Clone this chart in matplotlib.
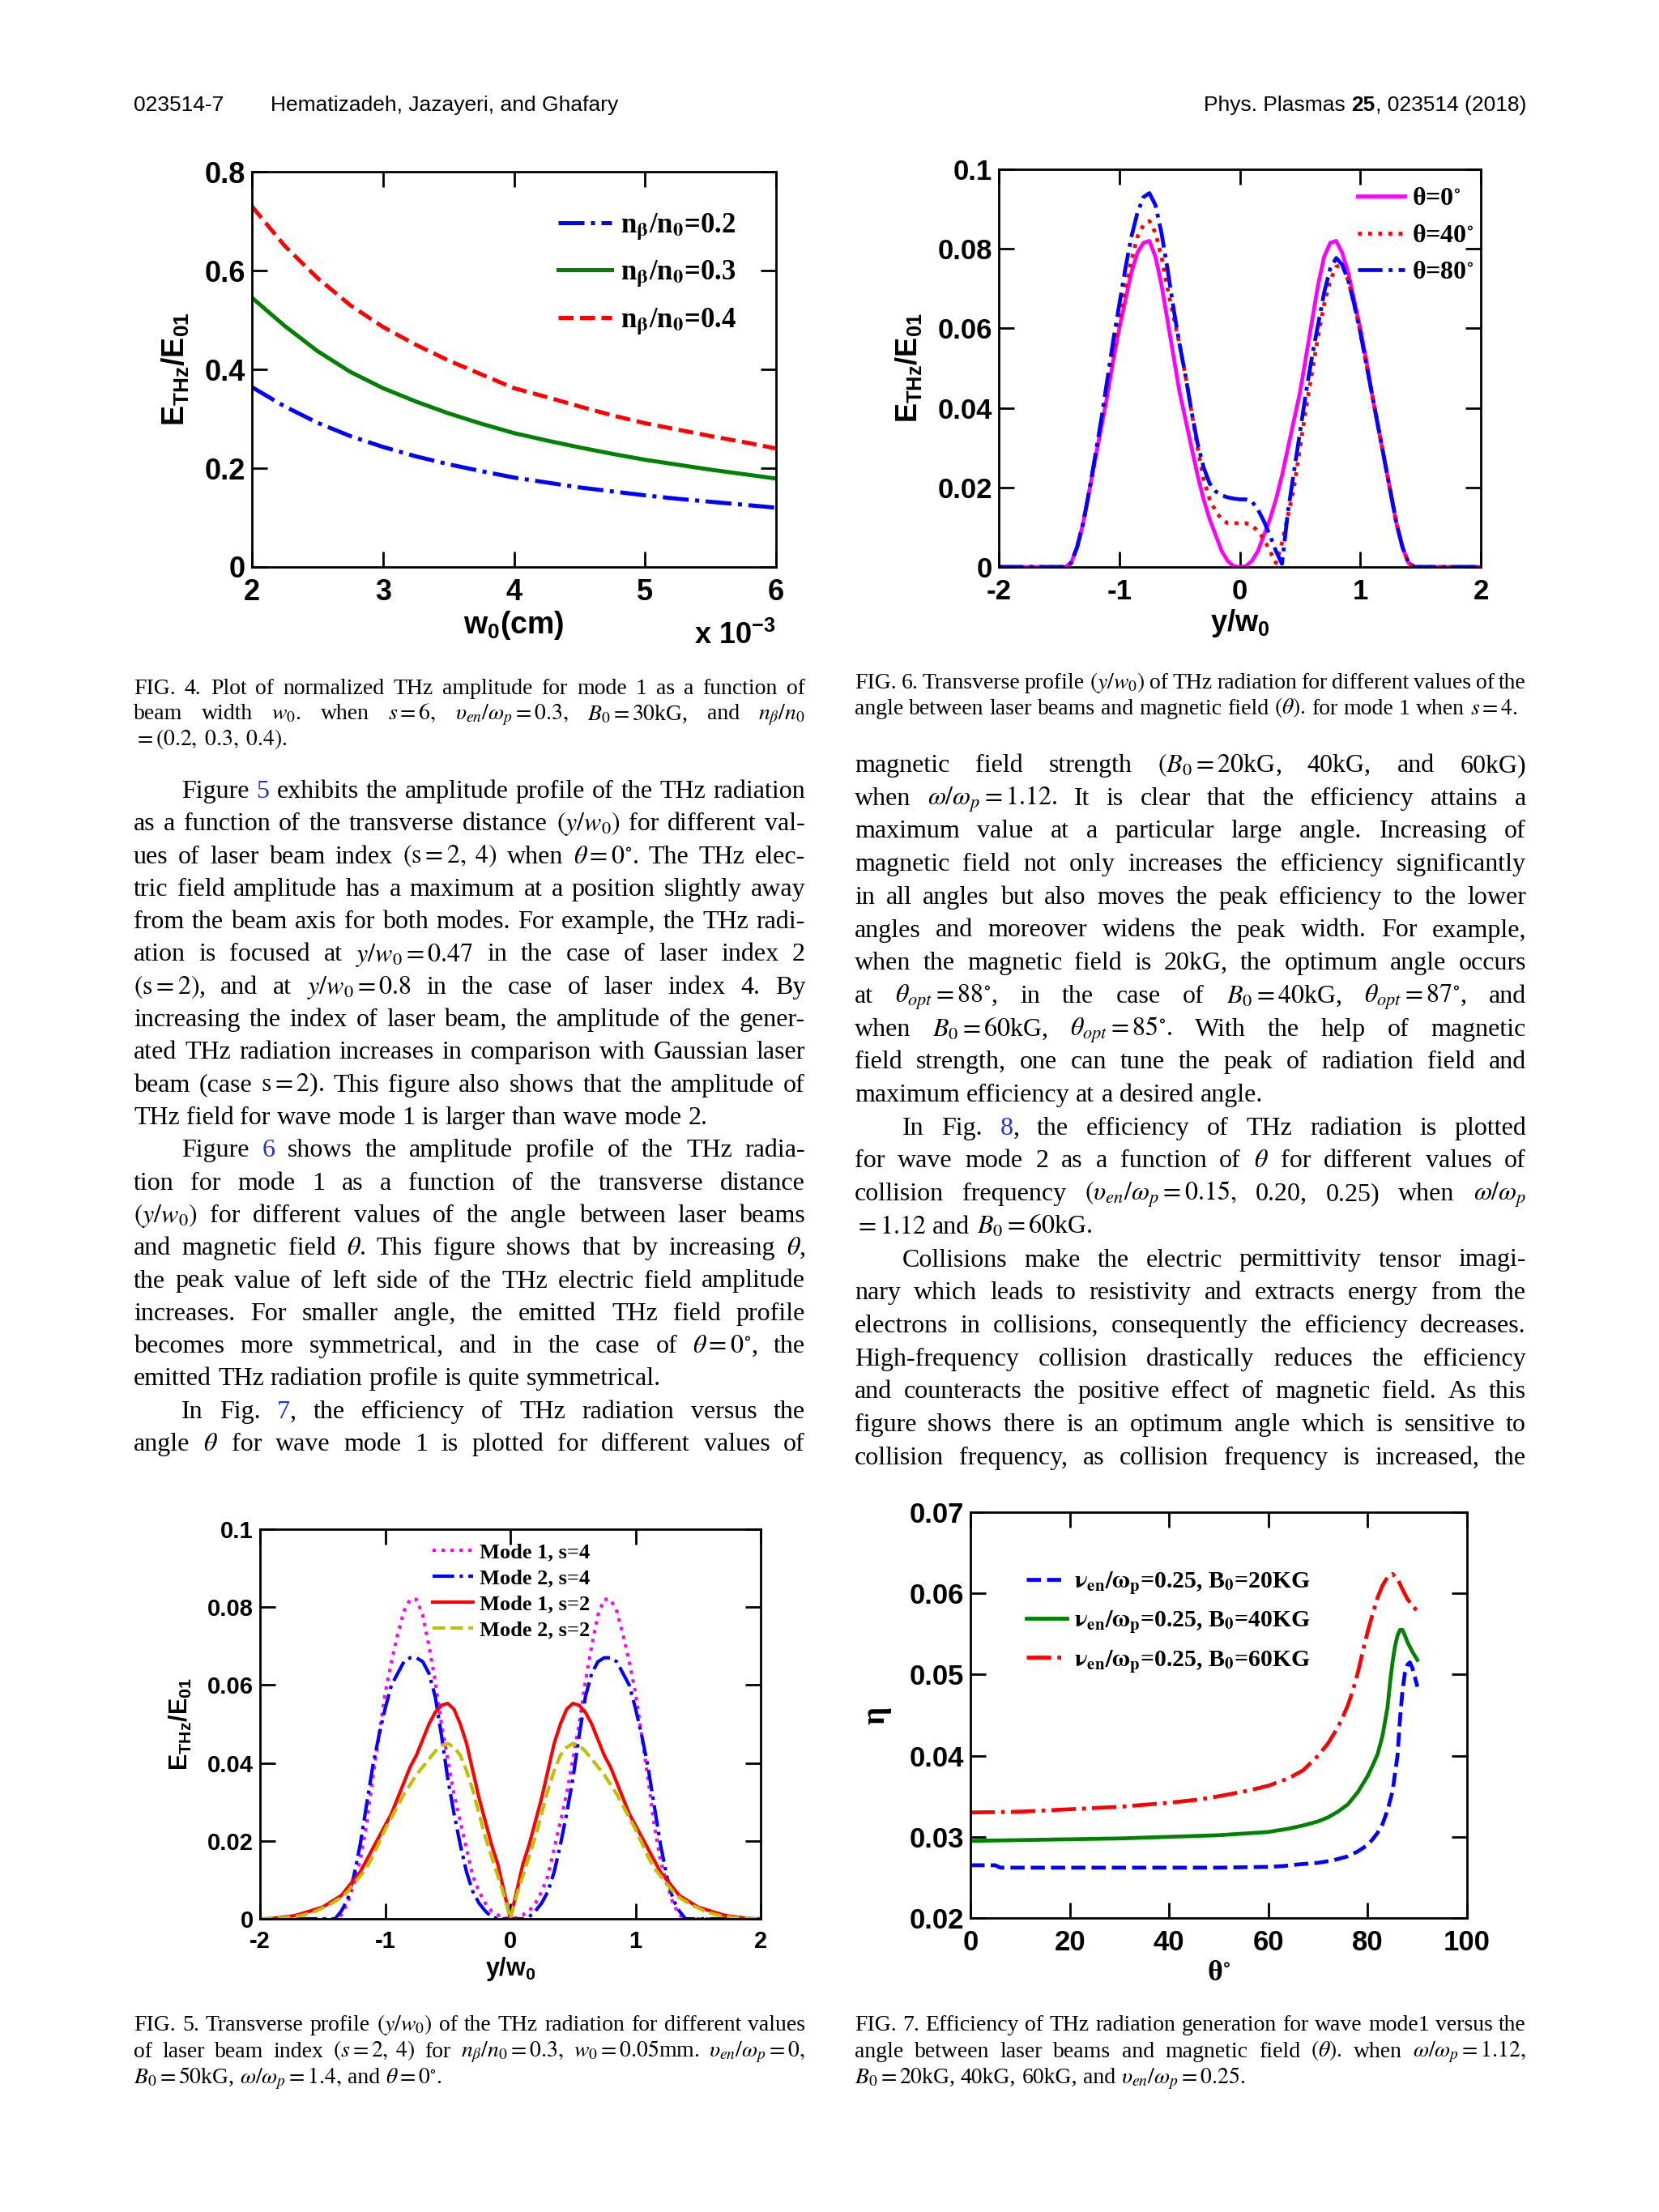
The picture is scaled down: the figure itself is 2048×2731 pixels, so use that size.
import numpy as np
import matplotlib
matplotlib.use("Agg")
import matplotlib.pyplot as plt
from matplotlib.font_manager import FontProperties

# ---------------- FIG. 4 : E_THz/E_01 versus w0 (units of 1e-3 cm)
w0 = [2.0, 2.25, 2.5, 2.75, 3.0, 3.25, 3.5, 3.75, 4.0, 4.25, 4.5, 4.75, 5.0, 5.25, 5.5, 5.75, 6.0]
amp_n02 = [0.364, 0.325, 0.292, 0.265, 0.243, 0.224, 0.208, 0.194, 0.181, 0.171, 0.161, 0.153,
           0.145, 0.138, 0.132, 0.126, 0.120]
amp_n03 = [0.545, 0.488, 0.437, 0.395, 0.362, 0.335, 0.311, 0.290, 0.271, 0.256, 0.242, 0.229,
           0.217, 0.207, 0.197, 0.188, 0.179]
amp_n04 = [0.730, 0.650, 0.585, 0.530, 0.486, 0.450, 0.418, 0.390, 0.362, 0.344, 0.325, 0.307,
           0.291, 0.278, 0.265, 0.253, 0.240]
fig4_labels = [r'n$_{\mathbf{\beta}}$/n$_{\mathbf{0}}$=0.2', r'n$_{\mathbf{\beta}}$/n$_{\mathbf{0}}$=0.3',
               r'n$_{\mathbf{\beta}}$/n$_{\mathbf{0}}$=0.4']
fig4_xticks = [2, 3, 4, 5, 6]
fig4_yticks = [0, 0.2, 0.4, 0.6, 0.8]
fig4_yticklabels = ['0', '0.2', '0.4', '0.6', '0.8']

# ---------------- FIG. 6 : profile for theta = 0, 40, 80 deg (x = -2..2, step 0.05)
y6 = np.linspace(-2, 2, 81)
z11 = [0.0] * 11
th0 = z11 + [0, 0.001, 0.005, 0.011, 0.019, 0.027, 0.035, 0.043, 0.052, 0.060,
             0.067, 0.074, 0.079, 0.0815, 0.082, 0.078, 0.071, 0.062, 0.053, 0.044,
             0.037, 0.030, 0.023, 0.017, 0.012, 0.008, 0.004, 0.0015, 0.0002,
             0.0,
             0.0002, 0.0015, 0.004, 0.008, 0.012, 0.017, 0.023, 0.030, 0.037, 0.044,
             0.053, 0.062, 0.071, 0.078, 0.0815, 0.082, 0.079, 0.074, 0.067, 0.060,
             0.052, 0.043, 0.035, 0.027, 0.019, 0.011, 0.005, 0.001, 0] + z11
th40 = z11 + [0, 0.001, 0.005, 0.011, 0.019, 0.027, 0.036, 0.045, 0.054, 0.062,
              0.070, 0.077, 0.083, 0.086, 0.087, 0.084, 0.078, 0.070, 0.063, 0.056,
              0.048, 0.039, 0.030, 0.022, 0.017, 0.014, 0.012, 0.011, 0.011,
              0.011,
              0.011, 0.0105, 0.009, 0.007, 0.004, 0.001, 0.006, 0.013, 0.020, 0.030,
              0.040, 0.049, 0.058, 0.066, 0.072, 0.0755, 0.076, 0.072, 0.066, 0.059,
              0.051, 0.043, 0.035, 0.027, 0.019, 0.011, 0.005, 0.001, 0] + z11
th80 = z11 + [0, 0.001, 0.005, 0.011, 0.019, 0.028, 0.037, 0.047, 0.057, 0.066,
              0.075, 0.083, 0.089, 0.093, 0.094, 0.091, 0.084, 0.075, 0.065, 0.056,
              0.048, 0.039, 0.031, 0.025, 0.021, 0.019, 0.018, 0.0175, 0.0172,
              0.017,
              0.017, 0.0165, 0.0145, 0.0115, 0.008, 0.004, 0.0008, 0.014, 0.024, 0.034,
              0.044, 0.053, 0.061, 0.069, 0.075, 0.0777, 0.076, 0.072, 0.066, 0.059,
              0.051, 0.043, 0.035, 0.027, 0.019, 0.011, 0.005, 0.001, 0] + z11
fig6_labels = [r'θ=0$^{\circ}$', r'θ=40$^{\circ}$', r'θ=80$^{\circ}$']
prof_xticks = [-2, -1, 0, 1, 2]
prof_yticks = [0, 0.02, 0.04, 0.06, 0.08, 0.1]
prof_yticklabels = ['0', '0.02', '0.04', '0.06', '0.08', '0.1']

# ---------------- FIG. 5 : half profiles (y/w0 = 0..2, step 0.05), curves are symmetric
y5_half = np.linspace(0, 2, 41)
mode1_s4 = [0, 0.0003, 0.001, 0.002, 0.004, 0.007, 0.011, 0.018, 0.025, 0.032,
            0.041, 0.050, 0.061, 0.070, 0.078, 0.082, 0.082, 0.079, 0.073, 0.066,
            0.058, 0.047, 0.036, 0.024, 0.015, 0.009, 0.004, 0.001, 0] + [0.0] * 12
mode2_s4 = [0, 0, 0, 0.0005, 0.002, 0.004, 0.007, 0.012, 0.019, 0.027,
            0.036, 0.047, 0.057, 0.063, 0.066, 0.067, 0.067, 0.066, 0.063, 0.060,
            0.054, 0.047, 0.039, 0.029, 0.019, 0.011, 0.005, 0.002, 0] + [0.0] * 12
mode1_s2 = [0, 0.007, 0.014, 0.019, 0.025, 0.031, 0.038, 0.045, 0.050, 0.0538,
            0.0553, 0.0548, 0.053, 0.050, 0.046, 0.042, 0.039, 0.035, 0.031, 0.027,
            0.024, 0.021, 0.018, 0.015, 0.012, 0.010, 0.008, 0.006, 0.005, 0.004,
            0.003, 0.0025, 0.002, 0.0015, 0.001, 0.0007, 0.0005, 0.0003, 0.0001, 0, 0]
mode2_s2 = [0, 0.006, 0.011, 0.016, 0.021, 0.027, 0.033, 0.038, 0.042, 0.044,
            0.045, 0.0445, 0.043, 0.041, 0.039, 0.037, 0.0345, 0.032, 0.029, 0.026,
            0.023, 0.0195, 0.016, 0.013, 0.011, 0.009, 0.007, 0.0055, 0.0045, 0.0035,
            0.0028, 0.002, 0.0015, 0.001, 0.0007, 0.0005, 0.0003, 0.0002, 0.0001, 0, 0]
fig5_labels = ['Mode 1, s=4', 'Mode 2, s=4', 'Mode 1, s=2', 'Mode 2, s=2']

# ---------------- FIG. 7 : efficiency versus theta
th_b20 = [0, 5, 6, 10, 20, 30, 40, 50, 60, 63, 66, 70, 73, 76, 78, 80, 81, 82, 83, 84,
          85, 86, 86.5, 87, 87.5, 88, 88.5, 89, 89.5, 90]
eta_b20 = [0.0265, 0.0265, 0.0262, 0.0262, 0.0262, 0.0262, 0.0262, 0.0262, 0.0263, 0.0264,
           0.0266, 0.0268, 0.0271, 0.0276, 0.0282, 0.0290, 0.0297, 0.0305, 0.0316, 0.0333,
           0.0356, 0.0400, 0.0445, 0.0480, 0.0502, 0.0512, 0.0515, 0.0508, 0.0497, 0.0485]
th_b40 = [0, 10, 20, 30, 40, 50, 55, 60, 64, 67, 70, 72, 74, 76, 78, 80, 81, 82, 83, 84,
          84.5, 85, 85.5, 86, 86.5, 87, 87.5, 88, 89, 90]
eta_b40 = [0.0295, 0.0296, 0.0297, 0.0298, 0.0300, 0.0302, 0.0304, 0.0306, 0.0310, 0.0314,
           0.0319, 0.0324, 0.0331, 0.0340, 0.0355, 0.0375, 0.0388, 0.0402, 0.0425, 0.0460,
           0.0490, 0.0515, 0.0535, 0.0548, 0.0555, 0.0555, 0.0548, 0.0540, 0.0528, 0.0518]
th_b60 = [0, 10, 20, 30, 40, 46, 50, 56, 60, 64, 67, 70, 72, 74, 75, 76, 77, 78, 79, 80,
          81, 82, 83, 84, 85, 86, 87, 88, 89, 90]
eta_b60 = [0.0330, 0.0331, 0.0334, 0.0337, 0.0342, 0.0346, 0.0350, 0.0357, 0.0363, 0.0372,
           0.0382, 0.0400, 0.0415, 0.0435, 0.0448, 0.0462, 0.0480, 0.0502, 0.0528, 0.0553,
           0.0575, 0.0595, 0.0610, 0.0620, 0.0624, 0.0618, 0.0605, 0.0593, 0.0585, 0.0578]
fig7_labels = [r'$\mathbf{\nu_{en}/\omega_p}$=0.25, B$_{\mathbf{0}}$=20KG',
               r'$\mathbf{\nu_{en}/\omega_p}$=0.25, B$_{\mathbf{0}}$=40KG',
               r'$\mathbf{\nu_{en}/\omega_p}$=0.25, B$_{\mathbf{0}}$=60KG']
fig7_xticks = [0, 20, 40, 60, 80, 100]
fig7_yticks = [0.02, 0.03, 0.04, 0.05, 0.06, 0.07]
fig7_yticklabels = ['0.02', '0.03', '0.04', '0.05', '0.06', '0.07']

# ---------------- page text
header_left = ['023514-7', 'Hematizadeh, Jazayeri, and Ghafary']
header_right = ['Phys. Plasmas', '25', ', 023514 (2018)']

cap4 = [(False, True, r'FIG. 4. Plot of normalized THz amplitude for mode 1 as a function of'),
        (False, True, r'beam width $w_0$. when $s=6,$ $\upsilon_{en}/\omega_p=0.3,$ $B_0=30$kG, and $n_\beta/n_0$'),
        (False, False, r'$=(0.2,\;0.3,\;0.4)$.')]
cap6 = [(False, True, r'FIG. 6. Transverse profile $(y/w_0)$ of THz radiation for different values of the'),
        (False, False, r'angle between laser beams and magnetic field $(\theta)$. for mode 1 when $s=4$.')]
cap5 = [(False, True, r'FIG. 5. Transverse profile $(y/w_0)$ of the THz radiation for different values'),
        (False, True, r'of laser beam index $(s=2,\;4)$ for $n_\beta/n_0=0.3,$ $w_0=0.05$mm. $\upsilon_{en}/\omega_p=0,$'),
        (False, False, r'$B_0=50$kG, $\omega/\omega_p=1.4,$ and $\theta=0^{\circ}$.')]
cap7 = [(False, True, r'FIG. 7. Efficiency of THz radiation generation for wave mode1 versus the'),
        (False, True, r'angle between laser beams and magnetic field $(\theta)$. when $\omega/\omega_p=1.12,$'),
        (False, False, r'$B_0=20$kG, 40kG, 60kG, and $\upsilon_{en}/\omega_p=0.25$.')]

left_col = [
    (True, True, r'Figure @5 exhibits the amplitude profile of the THz radiation'),
    (False, True, r'as a function of the transverse distance $(y/w_0)$ for different val-'),
    (False, True, r'ues of laser beam index $(\mathrm{s}=2,\;4)$ when $\theta=0^{\circ}$. The THz elec-'),
    (False, True, r'tric field amplitude has a maximum at a position slightly away'),
    (False, True, r'from the beam axis for both modes. For example, the THz radi-'),
    (False, True, r'ation is focused at $y/w_0=0.47$ in the case of laser index 2'),
    (False, True, r'$(\mathrm{s}=2)$, and at $y/w_0=0.8$ in the case of laser index 4. By'),
    (False, True, r'increasing the index of laser beam, the amplitude of the gener-'),
    (False, True, r'ated THz radiation increases in comparison with Gaussian laser'),
    (False, True, r'beam (case $\mathrm{s}=2$). This figure also shows that the amplitude of'),
    (False, False, r'THz field for wave mode 1 is larger than wave mode 2.'),
    (True, True, r'Figure @6 shows the amplitude profile of the THz radia-'),
    (False, True, r'tion for mode 1 as a function of the transverse distance'),
    (False, True, r'$(y/w_0)$ for different values of the angle between laser beams'),
    (False, True, r'and magnetic field $\theta$. This figure shows that by increasing $\theta$,'),
    (False, True, r'the peak value of left side of the THz electric field amplitude'),
    (False, True, r'increases. For smaller angle, the emitted THz field profile'),
    (False, True, r'becomes more symmetrical, and in the case of $\theta=0^{\circ}$, the'),
    (False, False, r'emitted THz radiation profile is quite symmetrical.'),
    (True, True, r'In Fig. @7, the efficiency of THz radiation versus the'),
    (False, True, r'angle $\theta$ for wave mode 1 is plotted for different values of'),
]
right_col = [
    (False, True, r'magnetic field strength $(B_0=20$kG, 40kG, and 60kG)'),
    (False, True, r'when $\omega/\omega_p=1.12$. It is clear that the efficiency attains a'),
    (False, True, r'maximum value at a particular large angle. Increasing of'),
    (False, True, r'magnetic field not only increases the efficiency significantly'),
    (False, True, r'in all angles but also moves the peak efficiency to the lower'),
    (False, True, r'angles and moreover widens the peak width. For example,'),
    (False, True, r'when the magnetic field is 20kG, the optimum angle occurs'),
    (False, True, r'at $\theta_{opt}=88^{\circ}$, in the case of $B_0=40$kG, $\theta_{opt}=87^{\circ}$, and'),
    (False, True, r'when $B_0=60$kG, $\theta_{opt}=85^{\circ}$. With the help of magnetic'),
    (False, True, r'field strength, one can tune the peak of radiation field and'),
    (False, False, r'maximum efficiency at a desired angle.'),
    (True, True, r'In Fig. @8, the efficiency of THz radiation is plotted'),
    (False, True, r'for wave mode 2 as a function of $\theta$ for different values of'),
    (False, True, r'collision frequency $(\upsilon_{en}/\omega_p=0.15,$ 0.20, 0.25) when $\omega/\omega_p$'),
    (False, False, r'$=1.12$ and $B_0=60$kG.'),
    (True, True, r'Collisions make the electric permittivity tensor imagi-'),
    (False, True, r'nary which leads to resistivity and extracts energy from the'),
    (False, True, r'electrons in collisions, consequently the efficiency decreases.'),
    (False, True, r'High-frequency collision drastically reduces the efficiency'),
    (False, True, r'and counteracts the positive effect of magnetic field. As this'),
    (False, True, r'figure shows there is an optimum angle which is sensitive to'),
    (False, True, r'collision frequency, as collision frequency is increased, the'),
]

# ---------------- setup
W, H, DPI = 2048, 2731, 200
SERIF = 'Liberation Serif'
SANS = 'Liberation Sans'
LINK = '#2233cc'

plt.rcParams['font.family'] = SANS
plt.rcParams['mathtext.fontset'] = 'custom'
plt.rcParams['mathtext.rm'] = 'Liberation Sans'
plt.rcParams['mathtext.it'] = 'Liberation Sans:italic'
plt.rcParams['mathtext.bf'] = 'Liberation Sans:bold'

fig = plt.figure(figsize=(W / DPI, H / DPI), dpi=DPI)
fig.patch.set_facecolor('white')
renderer = fig.canvas.get_renderer()


def measure(s, size, family=SERIF, weight='normal', math='stix'):
    t = fig.text(0, 0, s, fontsize=size, family=family, fontweight=weight, math_fontfamily=math)
    w = t.get_window_extent(renderer).width
    t.remove()
    return w


def split_words(line):
    words, cur, math = [], '', False
    for ch in line:
        if ch == '$':
            math = not math
        if ch == ' ' and not math:
            if cur:
                words.append(cur)
            cur = ''
        else:
            cur += ch
    if cur:
        words.append(cur)
    return words


def pieces(word):
    if word.startswith('@'):
        w = word[1:]
        n = 0
        while n < len(w) and w[n].isdigit():
            n += 1
        out = [(w[:n], LINK)]
        if w[n:]:
            out.append((w[n:], 'black'))
        return out
    return [(word, 'black')]


def draw_lines(lines, x0, x1, base0, dy, cap, indent=59.0, min_gap=0.2):
    toks = [[pieces(w) for w in split_words(t)] for _, _, t in lines]
    ratios = []
    for (ind, just, _), ws in zip(lines, toks):
        if not just:
            continue
        tot = sum(measure(p, 10) for w in ws for p, _ in w)
        room = x1 - x0 - (indent if ind else 0)
        ratios.append(room / (tot + min_gap * 10 * DPI / 72 * (len(ws) - 1)))
    size = min(cap, 10 * min(ratios))
    space = 0.25 * size * DPI / 72
    for i, ((ind, just, _), ws) in enumerate(zip(lines, toks)):
        y = base0 + i * dy
        x = x0 + (indent if ind else 0)
        widths = [[measure(p, size) for p, _ in w] for w in ws]
        tot = sum(sum(w) for w in widths)
        gap = (x1 - x - tot) / (len(ws) - 1) if (just and len(ws) > 1) else space
        for w, ww in zip(ws, widths):
            for (p, c), pw in zip(w, ww):
                fig.text(x / W, 1 - y / H, p, fontsize=size, family=SERIF, color=c,
                         math_fontfamily='stix', ha='left', va='baseline')
                x += pw
            x += gap
    return size


def make_ax(l, t, r, b):
    ax = fig.add_axes([l / W, 1 - b / H, (r - l) / W, (b - t) / H])
    ax.tick_params(direction='in', top=True, right=True, length=7, width=1.0)
    for s in ax.spines.values():
        s.set_linewidth(1.0)
    return ax


def style_ticks(ax, xt, xl, yt, yl, size):
    ax.set_xticks(xt)
    ax.set_xticklabels(xl, fontsize=size, fontweight='bold', family=SANS)
    ax.set_yticks(yt)
    ax.set_yticklabels(yl, fontsize=size, fontweight='bold', family=SANS)
    ax.tick_params(axis='x', pad=5)
    ax.tick_params(axis='y', pad=3)


def serif_prop(size):
    return FontProperties(family=SERIF, weight='bold', size=size, math_fontfamily='stix')


# ---------------- header
hsize = 9.5
fig.text(165 / W, 1 - 137 / H, header_left[0], fontsize=hsize, family=SANS, va='baseline')
fig.text(334 / W, 1 - 137 / H, header_left[1], fontsize=hsize, family=SANS, va='baseline')
sp = 0.28 * hsize * DPI / 72
wr = [measure(header_right[0], hsize, SANS), measure(header_right[1], hsize, SANS, 'bold'),
      measure(header_right[2], hsize, SANS)]
xh = 1884 - (wr[0] + sp + wr[1] + wr[2])
fig.text(xh / W, 1 - 137 / H, header_right[0], fontsize=hsize, family=SANS, va='baseline')
xh += wr[0] + sp
fig.text(xh / W, 1 - 137 / H, header_right[1], fontsize=hsize, family=SANS,
         fontweight='bold', va='baseline')
xh += wr[1]
fig.text(xh / W, 1 - 137 / H, header_right[2], fontsize=hsize, family=SANS, va='baseline')

# ---------------- FIG. 4
ax1 = make_ax(311, 212, 958, 700)
ax1.plot(w0, amp_n02, color='blue', ls='-.', lw=1.8, label=fig4_labels[0])
ax1.plot(w0, amp_n03, color='#008000', ls='-', lw=1.8, label=fig4_labels[1])
ax1.plot(w0, amp_n04, color='red', ls='--', lw=1.8, label=fig4_labels[2])
ax1.set_xlim(2, 6)
ax1.set_ylim(0, 0.8)
style_ticks(ax1, fig4_xticks, [str(v) for v in fig4_xticks], fig4_yticks, fig4_yticklabels, 13)
ax1.set_xlabel(r'w$_{\mathbf{0}}$(cm)', fontsize=13.5, fontweight='bold', labelpad=1)
ax1.set_ylabel(r'E$_{\mathbf{THz}}$/E$_{\mathbf{01}}$', fontsize=13.5, fontweight='bold', labelpad=6)
ax1.text(1.0, -0.175, r'x 10$^{\mathbf{-3}}$', transform=ax1.transAxes, ha='right', va='center',
         fontsize=13, fontweight='bold')
ax1.legend(loc='upper left', bbox_to_anchor=(0.585, 0.9), frameon=False, prop=serif_prop(12.5),
           handlelength=1.9, handletextpad=0.3, labelspacing=0.6, borderpad=0, borderaxespad=0)

# ---------------- FIG. 6
ax2 = make_ax(1233, 209, 1828, 700)
ax2.plot(y6, th0, color='magenta', ls='-', lw=1.7, label=fig6_labels[0])
ax2.plot(y6, th40, color='red', ls=':', lw=1.7, label=fig6_labels[1])
ax2.plot(y6, th80, color='blue', ls='-.', lw=1.7, label=fig6_labels[2])
ax2.set_xlim(-2, 2)
ax2.set_ylim(0, 0.1)
style_ticks(ax2, prof_xticks, [str(v) for v in prof_xticks], prof_yticks, prof_yticklabels, 12.5)
ax2.set_xlabel(r'y/w$_{\mathbf{0}}$', fontsize=13, fontweight='bold', labelpad=1)
ax2.set_ylabel(r'E$_{\mathbf{THz}}$/E$_{\mathbf{01}}$', fontsize=13, fontweight='bold', labelpad=6)
ax2.legend(loc='upper left', bbox_to_anchor=(0.745, 0.955), frameon=False, prop=serif_prop(11.5),
           handlelength=1.8, handletextpad=0.3, labelspacing=0.5, borderpad=0, borderaxespad=0)

# ---------------- FIG. 5
y5 = np.concatenate([-y5_half[::-1], y5_half[1:]])
def full(h):
    h = np.asarray(h)
    return np.concatenate([h[::-1], h[1:]])
ax3 = make_ax(321, 1888, 939, 2369)
ax3.plot(y5, full(mode1_s4), color='magenta', ls=':', lw=1.5, label=fig5_labels[0])
ax3.plot(y5, full(mode2_s4), color='blue', ls='-.', lw=1.5, label=fig5_labels[1])
ax3.plot(y5, full(mode1_s2), color='red', ls='-', lw=1.5, label=fig5_labels[2])
ax3.plot(y5, full(mode2_s2), color='#bfbf00', ls='--', lw=1.5, label=fig5_labels[3])
ax3.set_xlim(-2, 2)
ax3.set_ylim(0, 0.1)
style_ticks(ax3, prof_xticks, [str(v) for v in prof_xticks], prof_yticks, prof_yticklabels, 10.5)
ax3.set_xlabel(r'y/w$_{\mathbf{0}}$', fontsize=11, fontweight='bold', labelpad=1)
ax3.set_ylabel(r'E$_{\mathbf{THz}}$/E$_{\mathbf{01}}$', fontsize=11, fontweight='bold', labelpad=6)
ax3.legend(loc='upper left', bbox_to_anchor=(0.345, 0.966), frameon=False, prop=serif_prop(9.5),
           handlelength=1.9, handletextpad=0.3, labelspacing=0.33, borderpad=0, borderaxespad=0)

# ---------------- FIG. 7
ax4 = make_ax(1198, 1867, 1811, 2368)
ax4.plot(th_b20, eta_b20, color='blue', ls='--', lw=1.7, label=fig7_labels[0])
ax4.plot(th_b40, eta_b40, color='#008000', ls='-', lw=1.7, label=fig7_labels[1])
ax4.plot(th_b60, eta_b60, color='red', ls='-.', lw=1.7, label=fig7_labels[2])
ax4.set_xlim(0, 100)
ax4.set_ylim(0.02, 0.07)
style_ticks(ax4, fig7_xticks, [str(v) for v in fig7_xticks], fig7_yticks, fig7_yticklabels, 12.5)
ax4.set_xlabel(r'θ$^{\circ}$', fontsize=13, fontweight='bold', family=SERIF,
               math_fontfamily='stix', labelpad=2)
ax4.set_ylabel('η', fontsize=14, fontweight='bold', family=SERIF, labelpad=8)
ax4.legend(loc='upper left', bbox_to_anchor=(0.112, 0.858), frameon=False, prop=serif_prop(10.7),
           handlelength=1.7, handletextpad=0.3, labelspacing=0.55, borderpad=0, borderaxespad=0)

# ---------------- captions and body text
LX0, LX1, RX0, RX1 = 165, 994, 1055, 1884
draw_lines(cap4, LX0, LX1, 857, 31.5, 10.0)
draw_lines(cap6, RX0, RX1, 850, 31.5, 10.0)
draw_lines(cap5, LX0, LX1, 2507, 32.5, 10.0)
draw_lines(cap7, RX0, RX1, 2507, 32.5, 10.0)
draw_lines(left_col, LX0, LX1, 985, 40.3, 11.5)
draw_lines(right_col, RX0, RX1, 953, 40.7, 11.5)

fig.savefig('out.png', dpi=DPI, facecolor='white')
